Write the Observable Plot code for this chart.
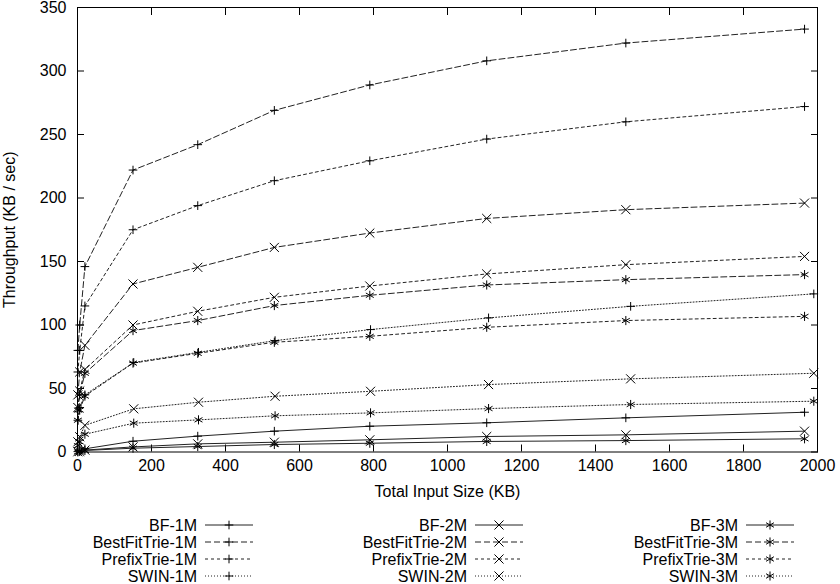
<!DOCTYPE html>
<html>
<head>
<meta charset="utf-8">
<script src="https://cdn.jsdelivr.net/npm/d3@7"></script>
<script src="https://cdn.jsdelivr.net/npm/@observablehq/plot@0.6"></script>
<style>
  html, body { margin: 0; padding: 0; background: #fff; }
  #chart { width: 840px; height: 584px; position: relative; font-family: "Liberation Sans", Arial, sans-serif; }
  #legend { display: block; }
</style>
</head>
<body>
<div id="chart"></div>
<script>
// Input sizes (KB)
const xs     = [1, 6, 20, 150, 325, 532, 790, 1106, 1482, 1965];
const xsSwin = [1, 6, 20, 152, 327, 534, 792, 1111, 1495, 1990];

// Throughput (KB / sec)
const bf1   = [0.3, 0.8, 2.5, 8.5, 12.5, 16.4, 20.3, 23.0, 26.9, 31.3];
const bft1  = [80, 100, 146, 222, 242, 269, 289, 308, 322, 333];
const pt1   = [63, 80, 115, 175, 194, 213.6, 229.3, 246.4, 260, 272];
const swin1 = [25, 35, 45, 70.5, 78.5, 87.7, 96.4, 105.6, 114.7, 124.5];

const bf2   = [0.2, 0.5, 1.5, 4, 6.4, 7.7, 9.6, 12.2, 13.5, 16.4];
const bft2  = [45, 63, 84, 132.3, 145.4, 161.1, 172.4, 183.9, 190.8, 196];
const pt2   = [35, 48, 65, 100, 110.8, 121.8, 130.7, 140.2, 147.5, 154];
const swin2 = [8, 12, 21, 34, 39.2, 43.9, 47.8, 53.1, 57.6, 62.0];

const bf3   = [0.1, 0.4, 1.2, 3, 4.3, 5.9, 6.9, 8.3, 9.0, 10.4];
const bft3  = [33, 45, 62, 95.6, 103.5, 115.3, 123.4, 131.5, 135.7, 139.7];
const pt3   = [25, 33, 44, 70, 77.7, 86.4, 91.1, 98.2, 103.5, 106.8];
const swin3 = [5, 8, 14, 22.7, 25.3, 28.5, 30.8, 34.2, 37.4, 40.0];

const xTicks = [0, 200, 400, 600, 800, 1000, 1200, 1400, 1600, 1800, 2000];
const yTicks = [0, 50, 100, 150, 200, 250, 300, 350];

const algos = ["BF", "BestFitTrie", "PrefixTrie", "SWIN"];
const sizes = ["1M", "2M", "3M"];
const valuesBy = {
  "BF-1M": bf1, "BestFitTrie-1M": bft1, "PrefixTrie-1M": pt1, "SWIN-1M": swin1,
  "BF-2M": bf2, "BestFitTrie-2M": bft2, "PrefixTrie-2M": pt2, "SWIN-2M": swin2,
  "BF-3M": bf3, "BestFitTrie-3M": bft3, "PrefixTrie-3M": pt3, "SWIN-3M": swin3
};

// styles
const dashBy = {BF: null, BestFitTrie: "6,3", PrefixTrie: "3,3", SWIN: "1,2"};
const symbolBy = {"1M": "plus", "2M": "times", "3M": "asterisk"};
const rBy = {"1M": 2.9, "2M": 4.2, "3M": 4.3};

const series = [];
for (const s of sizes) for (const a of algos) {
  const name = `${a}-${s}`;
  const xv = a === "SWIN" ? xsSwin : xs;
  const rows = valuesBy[name].map((v, i) => ({x: xv[i], y: v}));
  series.push({name, algo: a, size: s, rows});
}

const marks = [];
for (const sr of series) {
  marks.push(Plot.line(sr.rows, {x: "x", y: "y", stroke: "#222", strokeWidth: 1, strokeDasharray: dashBy[sr.algo] || undefined}));
}
for (const sr of series) {
  marks.push(Plot.dot(sr.rows, {x: "x", y: "y", symbol: symbolBy[sr.size], r: rBy[sr.size], stroke: "#000", fill: "none", strokeWidth: 1}));
}

const fmt = d => String(d);

const plot = Plot.plot({
  width: 840,
  height: 500,
  marginLeft: 77,
  marginRight: 23,
  marginTop: 7,
  marginBottom: 48.5,
  style: {fontFamily: "'Liberation Sans', Arial, sans-serif", fontSize: "16px", background: "#fff", color: "#000"},
  x: {domain: [0, 2000]},
  y: {domain: [0, 350]},
  marks: [
    Plot.axisX({ticks: xTicks, tickFormat: fmt, tickSize: 0, tickPadding: 8, label: "Total Input Size (KB)", labelAnchor: "center", labelArrow: "none", labelOffset: 45}),
    Plot.axisX({ticks: xTicks, tickSize: -7, tickFormat: () => "", label: null}),
    Plot.axisX({anchor: "top", ticks: xTicks, tickSize: -7, tickFormat: () => "", label: null}),
    Plot.axisY({ticks: yTicks, tickFormat: fmt, tickSize: 0, tickPadding: 11, label: "Throughput (KB / sec)", labelAnchor: "center", labelArrow: "none"}),
    Plot.axisY({ticks: yTicks, tickSize: -7, tickFormat: () => "", label: null}),
    Plot.axisY({anchor: "right", ticks: yTicks, tickSize: -7, tickFormat: () => "", label: null}),
    ...marks,
    Plot.frame({stroke: "#000", strokeWidth: 1})
  ]
});
document.getElementById("chart").appendChild(plot);

// Legend (gnuplot-style key, 3 columns x 4 rows)
const colTextRight = [197, 467, 738];
const sampleGap = 8, sampleLen = 48;
const rowY = [25, 42, 59, 76];
const leg = d3.select("#chart").append("svg")
  .attr("id", "legend")
  .attr("width", 840).attr("height", 84)
  .style("font-family", "'Liberation Sans', Arial, sans-serif")
  .style("font-size", "16px");
const symMap = {plus: d3.symbolPlus, times: d3.symbolTimes, asterisk: d3.symbolAsterisk};
sizes.forEach((s, c) => {
  algos.forEach((a, r) => {
    const name = `${a}-${s}`;
    const tx = colTextRight[c], ty = rowY[r];
    leg.append("text").attr("x", tx).attr("y", ty).attr("dy", "0.35em")
      .attr("text-anchor", "end").attr("fill", "#000").text(name);
    const x1 = tx + sampleGap, x2 = x1 + sampleLen;
    leg.append("line").attr("x1", x1).attr("x2", x2).attr("y1", ty).attr("y2", ty)
      .attr("stroke", "#222").attr("stroke-width", 1)
      .attr("stroke-dasharray", dashBy[a] || null);
    const rr = rBy[s];
    leg.append("path")
      .attr("d", d3.symbol(symMap[symbolBy[s]], rr * rr * Math.PI)())
      .attr("transform", `translate(${(x1 + x2) / 2},${ty})`)
      .attr("fill", "none").attr("stroke", "#000").attr("stroke-width", 1);
  });
});
</script>
</body>
</html>
